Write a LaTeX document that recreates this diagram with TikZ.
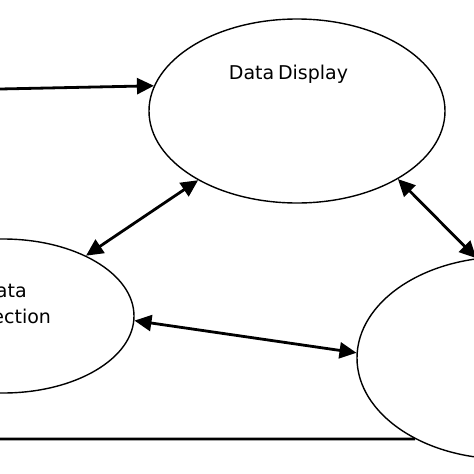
\documentclass[tikz,border=0pt]{standalone}
\usepackage{fontspec}
\setmainfont{DejaVu Sans}
\usetikzlibrary{arrows.meta,shapes.geometric}
\begin{document}
\begin{tikzpicture}[x=1pt,y=-1pt,
  stage/.style={draw,line width=1.4pt,ellipse,inner sep=0pt},
  link/.style={line width=2.8pt,{Triangle[length=17pt,width=16pt]}-{Triangle[length=17pt,width=16pt]}},
  oneway/.style={line width=2.8pt,-{Triangle[length=17pt,width=16pt]}},
  plain/.style={line width=2.8pt},
  lbl/.style={font=\fontsize{19}{26}\selectfont,inner sep=0pt,align=center}]
\useasboundingbox (0,0) rectangle (474,474);
\clip (0,0) rectangle (474,474);
\fill[white] (0,0) rectangle (474,474);
\node[stage,minimum width=296pt,minimum height=184pt] (disp) at (297,111) {};
\node[stage,minimum width=262pt,minimum height=154pt] (coll) at (3,316) {};
\node[stage,minimum width=296pt,minimum height=202pt] (concl) at (505,358) {};
\node[lbl,anchor=base] (tdisp) at (288.5,79) {Data\hspace{-0.12em} Display};
\node[lbl,anchor=base] (tcoll) at (4,323) {Data\\Collection};
\coordinate (in0) at (0,89);
\coordinate (bot0) at (0,439);
\draw[oneway] (in0) -- (disp.170);
\draw[link] (coll.36.5) -- (disp.215.3);
\draw[link] (disp.-34.8) -- (concl.106.4);
\draw[link] (coll.-2.5) -- (concl.178);
\draw[plain] (bot0) -- (concl.222.3);
\end{tikzpicture}
\end{document}
